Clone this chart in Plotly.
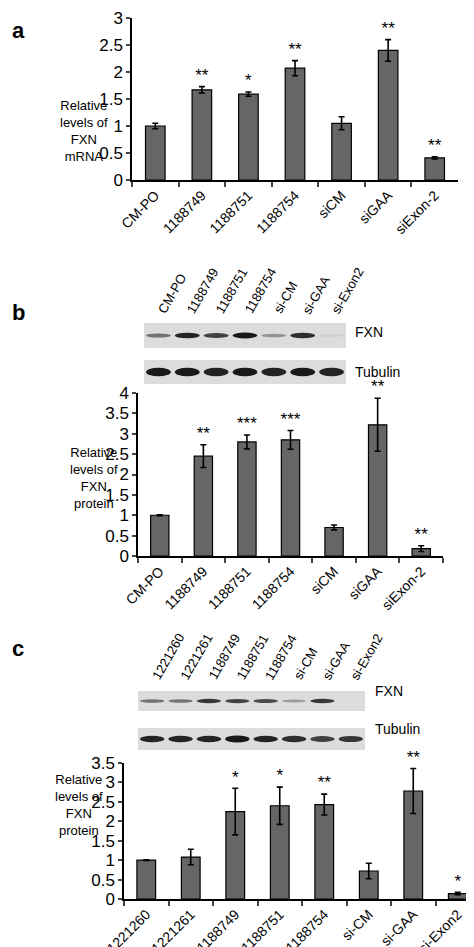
import plotly.graph_objects as go

W, H = 474, 947

# panel a: FXN mRNA
a_labels = ["CM-PO", "1188749", "1188751", "1188754", "siCM", "siGAA", "siExon-2"]
a_values = [1.0, 1.67, 1.59, 2.07, 1.05, 2.40, 0.41]
a_errors = [0.05, 0.06, 0.04, 0.14, 0.12, 0.20, 0.02]
a_stars = ["", "**", "*", "**", "", "**", "**"]

# panel b: FXN protein
b_labels = ["CM-PO", "1188749", "1188751", "1188754", "siCM", "siGAA", "siExon-2"]
b_values = [1.0, 2.45, 2.80, 2.85, 0.70, 3.22, 0.18]
b_errors = [0.01, 0.28, 0.17, 0.23, 0.06, 0.65, 0.07]
b_stars = ["", "**", "***", "***", "", "**", "**"]
b_lanes = ["CM-PO", "1188749", "1188751", "1188754", "si-CM", "si-GAA", "si-Exon2"]
b_fxn = [0.5, 0.9, 0.75, 0.95, 0.35, 0.85, 0.05]
b_tub = [0.95, 0.95, 0.9, 0.95, 0.9, 0.95, 0.9]

# panel c: FXN protein
c_labels = ["1221260", "1221261", "1188749", "1188751", "1188754", "si-CM", "si-GAA", "si-Exon2"]
c_values = [1.0, 1.08, 2.25, 2.40, 2.43, 0.72, 2.78, 0.14]
c_errors = [0.01, 0.20, 0.60, 0.48, 0.27, 0.20, 0.58, 0.03]
c_stars = ["", "", "*", "*", "**", "", "**", "*"]
c_lanes = c_labels
c_fxn = [0.5, 0.5, 0.8, 0.75, 0.7, 0.3, 0.8, 0.0]
c_tub = [0.9, 0.9, 0.9, 0.95, 0.9, 0.85, 0.75, 0.8]

FONT = "Liberation Sans, Arial, sans-serif"

def px(x):
    return x / W

def py(y):
    return 1 - y / H

fig = go.Figure()
panels = [
    ("", a_labels, a_values, a_errors, a_stars, [124, 450], [10, 172], [0, 3], 0.5, "mRNA", (50, 88)),
    ("2", b_labels, b_values, b_errors, b_stars, [130, 435], [385, 548], [0, 4], 0.5, "protein", (60, 470)),
    ("3", c_labels, c_values, c_errors, c_stars, [116, 472], [755, 891], [0, 3.5], 0.5, "protein", (45, 832)),
]

for suf, labels, vals, errs, stars, xr, yr, rng, dt, word, tpos in panels:
    fig.add_trace(go.Bar(
        x=labels, y=vals, xaxis="x" + suf, yaxis="y" + suf,
        marker=dict(color="#666666", line=dict(color="black", width=1.2)),
        width=0.42,
        error_y=dict(type="data", array=errs, color="black", thickness=1.6, width=3),
        showlegend=False,
    ))
    fig.add_trace(go.Scatter(
        x=labels, y=[v + e + rng[1] * 0.01 for v, e in zip(vals, errs)],
        xaxis="x" + suf, yaxis="y" + suf, mode="text", text=stars, cliponaxis=False,
        textposition="top center", textfont=dict(size=17, color="black", family=FONT),
        showlegend=False,
    ))
    fig.update_layout({
        "xaxis" + suf: dict(domain=[px(xr[0]), px(xr[1])], anchor="y" + suf, automargin=False,
                            showline=True, linecolor="black", linewidth=1.5,
                            ticks="outside", tickson="boundaries", ticklen=5, tickwidth=1.5,
                            tickangle=-45, tickfont=dict(size=14, color="black", family=FONT)),
        "yaxis" + suf: dict(domain=[py(yr[1]), py(yr[0])], anchor="x" + suf, range=rng, dtick=dt,
                            automargin=False,
                            showline=True, linecolor="black", linewidth=1.5, showgrid=False,
                            ticks="outside", ticklen=4, tickwidth=1.5, zeroline=False,
                            tickfont=dict(size=17, color="black", family=FONT)),
    })
    fig.add_annotation(x=px(tpos[0]), y=py(tpos[1]), xref="paper", yref="paper",
                       text="Relative<br>levels of<br>FXN<br>" + word, showarrow=False,
                       font=dict(size=13, color="black", family=FONT), align="center")

shapes = []

def blot(x0, x1, y0, y1, intens, thick):
    n = len(intens)
    shapes.append(dict(type="rect", xref="paper", yref="paper", x0=px(x0), x1=px(x1),
                       y0=py(y1), y1=py(y0), fillcolor="#dcdcdc", line=dict(width=0), layer="below"))
    lw = (x1 - x0) / n
    yc = (y0 + y1) / 2
    for i, v in enumerate(intens):
        if v <= 0.02:
            continue
        g = int(215 - 200 * v)
        shapes.append(dict(type="circle", xref="paper", yref="paper",
                           x0=px(x0 + i * lw + 2), x1=px(x0 + (i + 1) * lw - 2),
                           y0=py(yc + thick * (0.4 + 0.6 * v) / 2), y1=py(yc - thick * (0.4 + 0.6 * v) / 2),
                           fillcolor=f"rgb({g},{g},{g})", line=dict(width=0)))

blot(136, 338, 315, 340, b_fxn, 6)
blot(136, 338, 352, 376, b_tub, 9)
blot(130, 357, 683, 703, c_fxn, 5)
blot(130, 357, 720, 742, c_tub, 7)

def lane_labels(x0, x1, ybot, names):
    lw = (x1 - x0) / len(names)
    for i, n in enumerate(names):
        fig.add_annotation(x=px(x0 + (i + 0.5) * lw - 6), y=py(ybot), xref="paper", yref="paper",
                           text=n, textangle=-60, showarrow=False, xanchor="left", yanchor="bottom",
                           font=dict(size=13, color="black", family=FONT))

lane_labels(136, 338, 311, b_lanes)
lane_labels(130, 357, 677, c_lanes)

for txt, x, y in [("FXN", 345, 324), ("Tubulin", 345, 364), ("FXN", 365, 693), ("Tubulin", 365, 731)]:
    fig.add_annotation(x=px(x), y=py(y), xref="paper", yref="paper", text=txt, xanchor="left",
                       showarrow=False, font=dict(size=14, color="black", family=FONT))

for txt, y in [("a", 8), ("b", 290), ("c", 655)]:
    fig.add_annotation(x=px(2), y=py(y), xref="paper", yref="paper", text="<b>" + txt + "</b>",
                       xanchor="left", showarrow=False, font=dict(size=22, color="black", family=FONT))

fig.update_layout(width=W, height=H, margin=dict(l=0, r=0, t=0, b=0),
                  plot_bgcolor="white", paper_bgcolor="white", shapes=shapes, bargap=0.5)
fig.write_html("out.html")
